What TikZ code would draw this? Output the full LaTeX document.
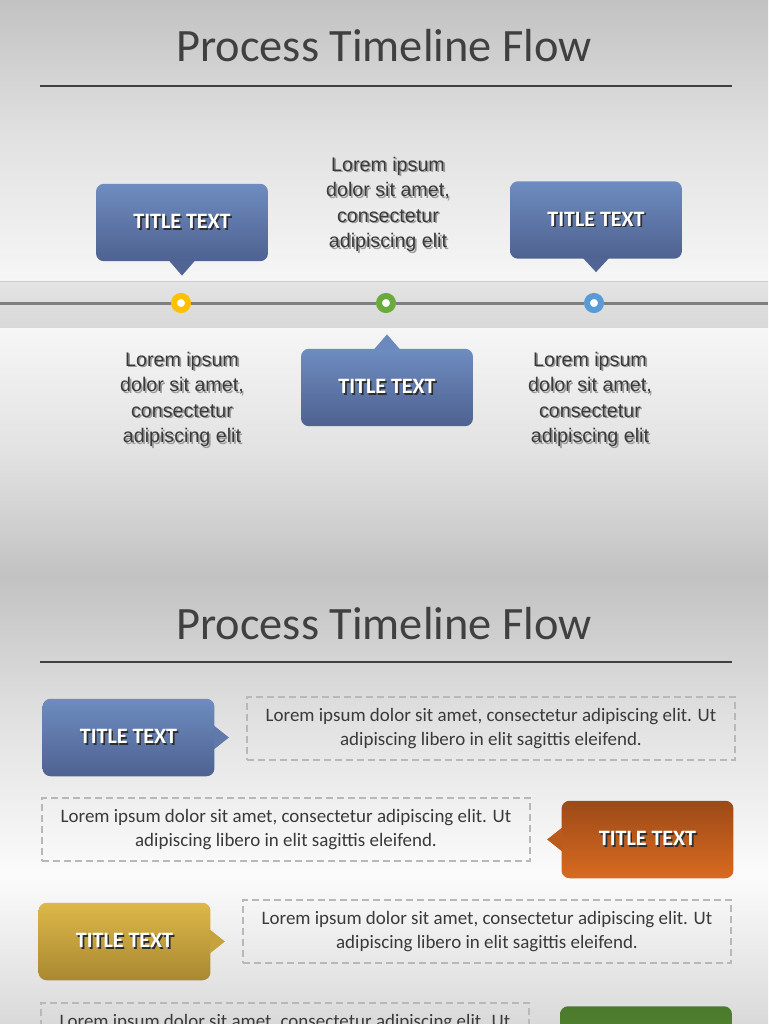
\documentclass[tikz,border=0pt]{standalone}
\usepackage{fontspec}
\setmainfont{Carlito}
\newfontfamily\loremfont{Liberation Sans}

\definecolor{bgdark}{HTML}{C2C2C2}
\definecolor{bgmid}{HTML}{E2E2E2}
\definecolor{bglight}{HTML}{F6F6F6}
\definecolor{bandtop}{HTML}{E4E4E4}
\definecolor{bandbot}{HTML}{D8D8D8}
\definecolor{bandedge}{HTML}{CDCDCD}
\definecolor{linegray}{HTML}{7F7F7F}
\definecolor{titlegray}{HTML}{404040}
\definecolor{textgray}{HTML}{3A3A3A}
\definecolor{loremshadow}{HTML}{9A9A9A}
\definecolor{titleshadow}{HTML}{2E2E2E}
\definecolor{dashgray}{HTML}{B8B8B8}
\definecolor{blueA}{HTML}{6E8CC0}
\definecolor{blueB}{HTML}{4E6290}
\definecolor{orangeA}{HTML}{9C4A18}
\definecolor{orangeB}{HTML}{D96A20}
\definecolor{goldA}{HTML}{DDB848}
\definecolor{goldB}{HTML}{A88832}
\definecolor{greenA}{HTML}{4A7A2B}
\definecolor{greenB}{HTML}{5E8F36}
\definecolor{dotyellow}{HTML}{FFC000}
\definecolor{dotgreen}{HTML}{6BAA3C}
\definecolor{dotblue}{HTML}{5B9BD5}

% text with a drop shadow
\newcommand{\shadowed}[2]{\rlap{\kern0.9pt\raisebox{-0.9pt}{\textcolor{#1}{#2}}}#2}
\newcommand{\loremblock}{\shadowed{loremshadow}{Lorem ipsum}\\\shadowed{loremshadow}{dolor sit amet,}\\\shadowed{loremshadow}{consectetur}\\\shadowed{loremshadow}{adipiscing elit}}
\newcommand{\loremwide}{Lorem ipsum dolor sit amet, consectetur adipiscing elit. Ut\\adipiscing libero in elit sagittis eleifend.}
\newcommand{\calloutlabel}{\shadowed{titleshadow}{TITLE TEXT}}

\tikzset{
	slidetitle/.style={text=titlegray,font=\fontsize{26.4}{30}\selectfont,inner sep=0pt},
	titlerule/.style={draw=titlegray,line width=0.025cm},
	callout/.style={rectangle,rounded corners=0.16cm,minimum width=3.44cm,minimum height=1.55cm,inner sep=0pt,text=white,font=\bfseries\fontsize{12.5}{15}\selectfont},
	lorem/.style={align=center,text=textgray,font=\loremfont\fontsize{11.2}{14.5}\selectfont,inner sep=0pt},
	textbox/.style={draw=dashgray,dash pattern=on 0.14cm off 0.08cm,line width=0.03cm,minimum width=9.76cm,minimum height=1.26cm,inner sep=0pt,align=center,text=textgray,font=\fontsize{10.8}{13.6}\selectfont},
	dot/.style={circle,fill=white,line width=0.12cm,minimum size=0.28cm,inner sep=0pt}
}

\begin{document}
\begin{tikzpicture}[x=0.02cm,y=-0.02cm]
	\useasboundingbox (0,0) rectangle (768,1024);
	\clip (0,0) rectangle (768,1024);

	% first slide
	\shade[top color=bgdark,bottom color=bglight,middle color=bgmid] (0,0) rectangle (768,281);
	\shade[top color=bglight,bottom color=bgdark,middle color=bgmid] (0,327) rectangle (768,576);
	\shade[top color=bandtop,bottom color=bandbot] (0,281) rectangle (768,327);
	\draw[bandedge,line width=0.02cm] (0,281) -- (768,281);

	\node[slidetitle,anchor=base] (title1) at (384,62) {Process Timeline Flow};
	\draw[titlerule] (40,86) -- (732,86);

	\coordinate (lstart) at (0,303);
	\coordinate (lend) at (768,303);
	\foreach \name/\x/\col in {d1/181/dotyellow,d2/386/dotgreen,d3/594/dotblue}
		\node[dot,draw=\col] (\name) at (\x,303) {};
	\draw[linegray,line width=0.06cm] (lstart) -- (d1) (d1) -- (d2) (d2) -- (d3) (d3) -- (lend);

	\node[callout,top color=blueA,bottom color=blueB] (c1) at (182,222.5) {\calloutlabel};
	\fill[blueB!92!blueA] (c1.south) ++(-13,-1) -- ++(26,0) -- ++(-13,15) -- cycle;
	\node[callout,top color=blueA,bottom color=blueB] (c2) at (596,220) {\calloutlabel};
	\fill[blueB!92!blueA] (c2.south) ++(-13,-1) -- ++(26,0) -- ++(-13,14) -- cycle;
	\node[callout,top color=blueA,bottom color=blueB] (c3) at (387,387.5) {\calloutlabel};
	\fill[blueA!92!blueB] (c3.north) ++(-13,1) -- ++(26,0) -- ++(-13,-15) -- cycle;

	\node[lorem] (l1) at (388,205) {\loremblock};
	\node[lorem] (l2) at (182,400) {\loremblock};
	\node[lorem] (l3) at (590,400) {\loremblock};

	% second slide
	\shade[top color=bgdark,bottom color=white!60!bglight,middle color=bgmid] (0,576) rectangle (768,875);
	\shade[top color=white!60!bglight,bottom color=bandbot!90!bandtop] (0,875) rectangle (768,1024);

	\node[slidetitle,anchor=base] (title2) at (384,639) {Process Timeline Flow};
	\draw[titlerule] (40,662) -- (732,662);

	\node[callout,top color=blueA,bottom color=blueB] (r1) at (128.5,737.5) {\calloutlabel};
	\fill[blueA!55!blueB] (r1.east) ++(-1,-12) -- ++(0,24) -- ++(15,-12) -- cycle;
	\node[textbox] (b1) at (491,728.5) {\loremwide};

	\node[callout,top color=orangeA,bottom color=orangeB] (r2) at (647.5,839.5) {\calloutlabel};
	\fill[orangeA!50!orangeB] (r2.west) ++(1,-12) -- ++(0,24) -- ++(-15,-12) -- cycle;
	\node[textbox] (b2) at (286,829.5) {\loremwide};

	\node[callout,top color=goldA,bottom color=goldB] (r3) at (124.5,941.5) {\calloutlabel};
	\fill[goldA!55!goldB] (r3.east) ++(-1,-12) -- ++(0,24) -- ++(15,-12) -- cycle;
	\node[textbox] (b3) at (487,931.5) {\loremwide};

	\node[callout,top color=greenA,bottom color=greenB] (r4) at (646,1045) {};
	\node[textbox] (b4) at (285,1034.5) {\loremwide};
\end{tikzpicture}
\end{document}
